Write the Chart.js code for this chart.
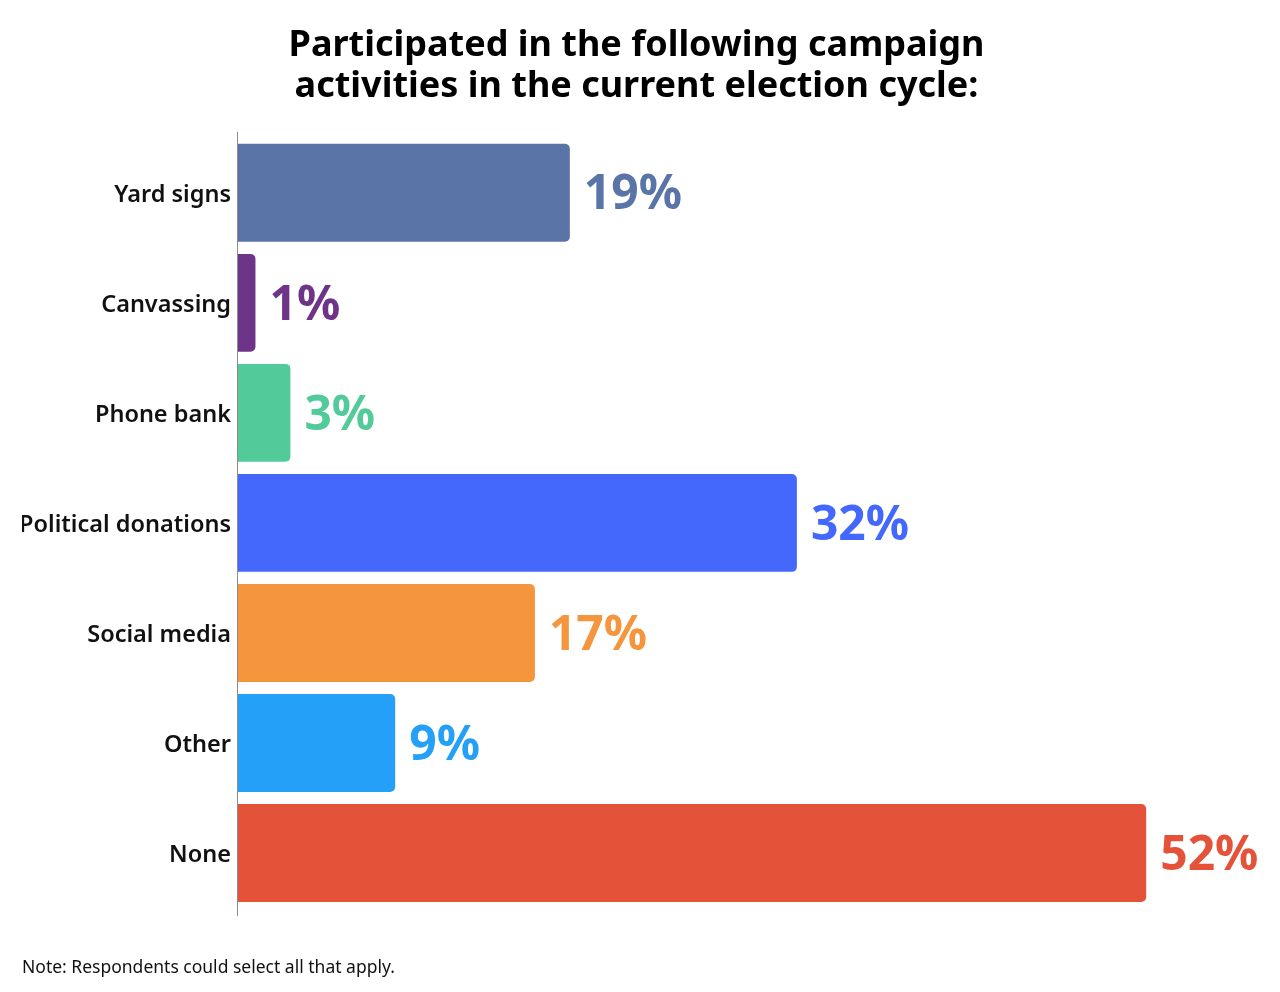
<!DOCTYPE html>
<html lang="en">
<head>
    <meta charset="UTF-8">
    <title>Campaign activities</title>
    <script src="https://cdn.jsdelivr.net/npm/chart.js"></script>
    <style>
        html, body { margin: 0; padding: 0; background: #fff; }
        #activitiesChart { display: block; }
    </style>
</head>
<body>
    <canvas id="activitiesChart" width="1280" height="992"></canvas>
    <script>
        // Data
        const activities = ["Yard signs", "Canvassing", "Phone bank", "Political donations", "Social media", "Other", "None"];
        const shares = [19, 1, 3, 32, 17, 9, 52];
        const barColors = ["#5a74a7", "#6e3488", "#52ca9a", "#4468fb", "#f5963e", "#24a0f8", "#e4523a"];

        const titleLines = ["Participated in the following campaign", "activities in the current election cycle:"];
        const noteText = "Note: Respondents could select all that apply.";

        const fontFamily = "'Noto Sans', 'Open Sans', sans-serif";

        // Percent labels right after each bar, in the bar colour
        const valueLabels = {
            id: 'valueLabels',
            afterDatasetsDraw(chart) {
                const ctx = chart.ctx;
                const meta = chart.getDatasetMeta(0);
                ctx.save();
                ctx.font = "bold 48px " + fontFamily;
                ctx.textBaseline = 'middle';
                ctx.textAlign = 'left';
                meta.data.forEach((bar, i) => {
                    ctx.fillStyle = barColors[i];
                    ctx.fillText(shares[i] + '%', bar.x + 14, bar.y + 3);
                });
                ctx.restore();
            }
        };

        // Thin vertical axis line, a bit longer than the bars
        const axisLine = {
            id: 'axisLine',
            beforeDatasetsDraw(chart) {
                const { ctx, chartArea } = chart;
                ctx.save();
                ctx.strokeStyle = '#8c8c8c';
                ctx.lineWidth = 1;
                ctx.beginPath();
                ctx.moveTo(chartArea.left - 0.5, chartArea.top - 6);
                ctx.lineTo(chartArea.left - 0.5, chartArea.bottom + 8);
                ctx.stroke();
                ctx.restore();
            }
        };

        const ctx = document.getElementById('activitiesChart').getContext('2d');
        new Chart(ctx, {
            type: 'bar',
            data: {
                labels: activities,
                datasets: [{
                    label: 'Share of respondents',
                    data: shares,
                    backgroundColor: barColors,
                    borderRadius: 5,
                    borderSkipped: 'start',
                    barPercentage: 0.89,
                    categoryPercentage: 1
                }]
            },
            options: {
                indexAxis: 'y',
                responsive: false,
                animation: false,
                layout: {
                    padding: { left: 22, right: 29, top: 0, bottom: 0 }
                },
                scales: {
                    x: {
                        display: false,
                        min: 0,
                        max: 58
                    },
                    y: {
                        grid: { display: false, drawTicks: false },
                        border: { display: false },
                        ticks: {
                            color: '#111',
                            padding: 7,
                            labelOffset: 2,
                            font: { family: fontFamily, size: 23.5, weight: '600' }
                        },
                        afterFit(scale) {
                            scale.width = 216;
                        }
                    }
                },
                plugins: {
                    legend: { display: false },
                    tooltip: { enabled: false },
                    title: {
                        display: true,
                        text: titleLines,
                        color: '#000',
                        font: { family: fontFamily, size: 36, weight: 'bold', lineHeight: 1.15 },
                        padding: { top: 25, bottom: 30 }
                    },
                    subtitle: {
                        display: true,
                        position: 'bottom',
                        align: 'start',
                        text: noteText,
                        color: '#111',
                        font: { family: fontFamily, size: 17.5, lineHeight: 1.2 },
                        padding: { top: 50, bottom: 13 }
                    }
                }
            },
            plugins: [axisLine, valueLabels]
        });
    </script>
</body>
</html>
